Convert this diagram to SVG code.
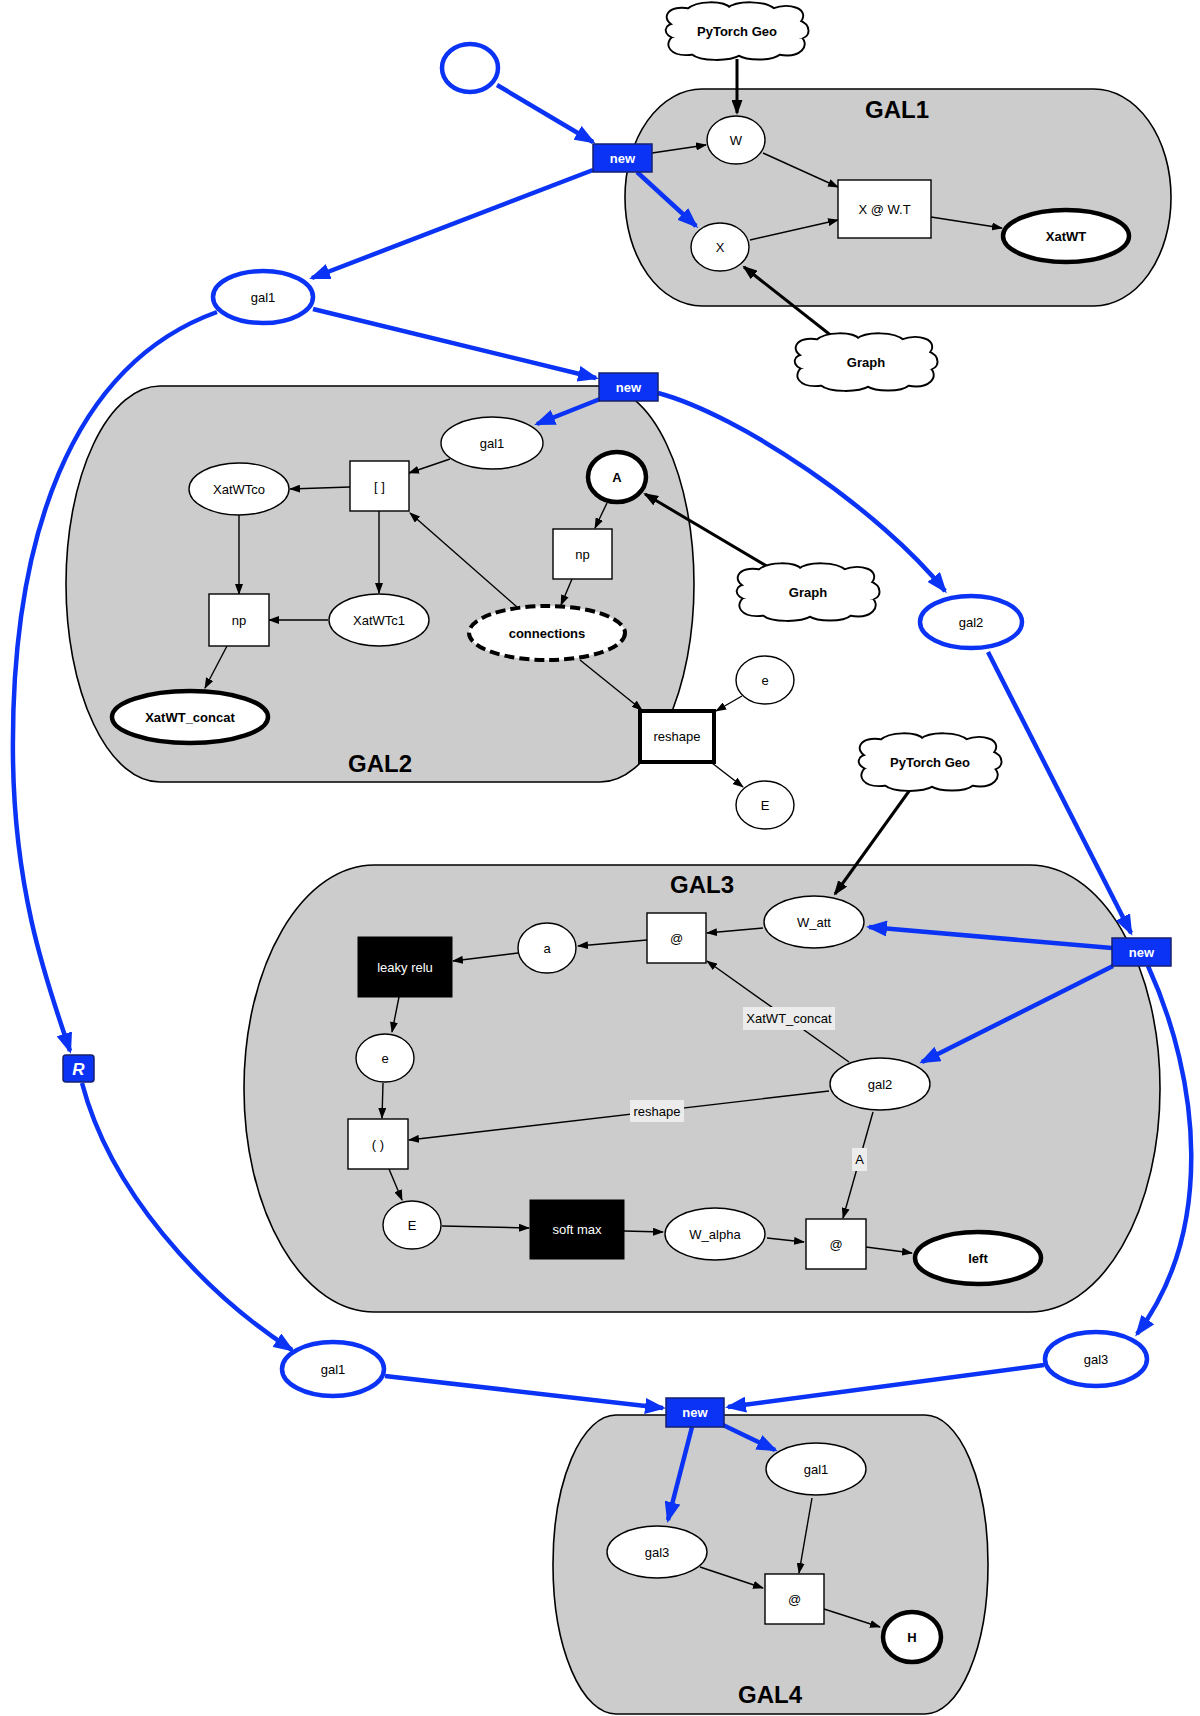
<svg xmlns="http://www.w3.org/2000/svg" xmlns:xlink="http://www.w3.org/1999/xlink" width="1200" height="1716" viewBox="0 0 1200 1716">
<style>
text{font-family:"Liberation Sans",Arial,sans-serif;font-size:13px;text-anchor:middle;fill:#000}
.b{font-weight:bold}
.w{fill:#fff}
.title{font-size:24px;font-weight:bold}
.cont{fill:#cccccc;stroke:#000;stroke-width:1.6}
.n{fill:#fff;stroke:#000;stroke-width:1.4}
.thick{fill:#fff;stroke:#000;stroke-width:4.5}
.blk{fill:#000;stroke:#000;stroke-width:1}
.bl{fill:#fff;stroke:#0a33f5;stroke-width:4.5}
.newb{fill:#0a33f5;stroke:#14206e;stroke-width:1.5}
.dash{fill:#fff;stroke:#000;stroke-width:4;stroke-dasharray:10 5}
.e{fill:none;stroke:#000;stroke-width:1.4;marker-end:url(#aS)}
.k{fill:none;stroke:#000;stroke-width:3;marker-end:url(#aK)}
.be{fill:none;stroke:#0a33f5;stroke-width:4.5;marker-end:url(#aB)}
.lbl{fill:#ececec;stroke:none}
.co{fill:#fff;stroke:#000;stroke-width:7}
.ci{fill:#fff;stroke:#fff;stroke-width:3.2}
</style>
<defs>
<marker id="aS" markerUnits="userSpaceOnUse" markerWidth="11" markerHeight="8" refX="10" refY="4" orient="auto"><path d="M0,0 L11,4 L0,8 z" fill="#000"/></marker>
<marker id="aK" markerUnits="userSpaceOnUse" markerWidth="15" markerHeight="11" refX="13" refY="5.5" orient="auto"><path d="M0,0 L15,5.5 L0,11 z" fill="#000"/></marker>
<marker id="aB" markerUnits="userSpaceOnUse" markerWidth="21" markerHeight="16" refX="18" refY="8" orient="auto"><path d="M0,0 L21,8 L0,16 z" fill="#0a33f5"/></marker>
<path id="cloud" d="M-58,-6 C-74,-10 -70,-24 -48,-20 C-40,-28 -14,-28 -8,-21 C0,-28 28,-28 36,-20 C52,-26 72,-20 60,-9 C72,-5 72,5 60,6 C72,13 62,25 42,21 C34,28 10,27 2,22 C-8,28 -36,28 -44,21 C-66,24 -72,12 -60,6 C-72,2 -72,-5 -58,-6 Z"/>
</defs>
<rect width="1200" height="1716" fill="#fff"/>

<g id="containers">
<g id="GAL1"><rect class="cont" x="625" y="89" width="546" height="217" rx="77" ry="108"/><text class="title" x="897" y="118">GAL1</text></g>
<g id="GAL2"><rect class="cont" x="66" y="386" width="628" height="396" rx="94" ry="198"/><text class="title" x="380" y="772">GAL2</text></g>
<g id="GAL3"><rect class="cont" x="244" y="865" width="916" height="447" rx="130" ry="223"/><text class="title" x="702" y="893">GAL3</text></g>
<g id="GAL4"><rect class="cont" x="553" y="1415" width="435" height="299" rx="63" ry="149"/><text class="title" x="770" y="1703">GAL4</text></g>
</g>

<g id="connectors">
<path class="be" d="M497,85 L593,142"/>
<path class="be" d="M593,170 L312,278"/>
<path class="be" d="M637,172 L696,226"/>
<path class="be" d="M313,309 L596,378"/>
<path class="be" d="M217,312 C70,365 10,540 13,760 C15,900 50,990 70,1051"/>
<path class="be" d="M82,1083 C110,1190 200,1290 292,1350"/>
<path class="be" d="M600,399 L537,424"/>
<path class="be" d="M658,393 C740,415 880,510 945,591"/>
<path class="be" d="M988,652 L1131,933"/>
<path class="be" d="M1112,948 L869,927"/>
<path class="be" d="M1113,966 L922,1062"/>
<path class="be" d="M1148,966 C1200,1080 1215,1230 1137,1334"/>
<path class="be" d="M385,1376 L663,1408"/>
<path class="be" d="M1044,1365 L728,1407"/>
<path class="be" d="M723,1425 L775,1450"/>
<path class="be" d="M692,1427 L668,1520"/>

<path class="k" d="M737,59 L737,113"/>
<path class="k" d="M833,337 L744,267"/>
<path class="k" d="M770,568 L645,494"/>
<path class="k" d="M912,787 L835,894"/>

<path class="e" d="M652,153 L706,145"/>
<path class="e" d="M763,153 L838,187"/>
<path class="e" d="M750,240 L838,220"/>
<path class="e" d="M931,217 L1002,228"/>
<path class="e" d="M450,459 L409,473"/>
<path class="e" d="M350,487 L290,489"/>
<path class="e" d="M379,511 L379,593"/>
<path class="e" d="M239,515 L239,594"/>
<path class="e" d="M328,620 L269,620"/>
<path class="e" d="M227,646 L205,688"/>
<path class="e" d="M517,607 L410,513"/>
<path class="e" d="M607,503 L595,528"/>
<path class="e" d="M572,579 L561,605"/>
<path class="e" d="M580,660 L642,710"/>
<path class="e" d="M742,696 L716,711"/>
<path class="e" d="M712,763 L743,787"/>
<path class="e" d="M763,928 L707,933"/>
<path class="e" d="M647,940 L578,946"/>
<path class="e" d="M518,953 L453,961"/>
<path class="e" d="M399,997 L392,1032"/>
<path class="e" d="M383,1083 L382,1118"/>
<path class="e" d="M389,1169 L402,1200"/>
<path class="e" d="M442,1226 L529,1228"/>
<path class="e" d="M624,1231 L663,1232"/>
<path class="e" d="M767,1238 L804,1242"/>
<path class="e" d="M866,1247 L912,1253"/>
<path class="e" d="M849,1062 L707,961"/>
<path class="e" d="M829,1091 L409,1140"/>
<path class="e" d="M873,1112 L843,1218"/>
<path class="e" d="M812,1498 L799,1573"/>
<path class="e" d="M700,1567 L763,1588"/>
<path class="e" d="M824,1609 L880,1627"/>

<rect class="lbl" x="743" y="1007" width="92" height="23"/><text x="789" y="1023">XatWT_concat</text>
<rect class="lbl" x="630" y="1100" width="54" height="22"/><text x="657" y="1116">reshape</text>
<rect class="lbl" x="852" y="1148" width="15" height="23"/><text x="859.5" y="1164">A</text>
</g>

<g id="nodes">
<g id="start"><ellipse class="bl" cx="470" cy="68" rx="28" ry="24"/></g>
<g id="pytorch_geo_1"><use xlink:href="#cloud" class="co" transform="translate(737,31)"/><use xlink:href="#cloud" class="ci" transform="translate(737,31)"/><text class="b" x="737" y="36">PyTorch Geo</text></g>
<g id="new1"><rect class="newb" x="593" y="144" width="59" height="28"/><text class="b w" x="622.5" y="163">new</text></g>
<g id="W"><ellipse class="n" cx="736" cy="140" rx="29" ry="24"/><text x="736" y="145">W</text></g>
<g id="X"><ellipse class="n" cx="720" cy="247" rx="29" ry="24"/><text x="720" y="252">X</text></g>
<g id="XWT"><rect class="n" x="838" y="180" width="93" height="58"/><text x="884.5" y="214">X @ W.T</text></g>
<g id="XatWT"><ellipse class="thick" cx="1066" cy="236" rx="63" ry="26"/><text class="b" x="1066" y="241">XatWT</text></g>
<g id="graph_1"><use xlink:href="#cloud" class="co" transform="translate(866,362)"/><use xlink:href="#cloud" class="ci" transform="translate(866,362)"/><text class="b" x="866" y="367">Graph</text></g>

<g id="gal1_a"><ellipse class="bl" cx="263" cy="297" rx="50" ry="26"/><text x="263" y="302">gal1</text></g>
<g id="new2"><rect class="newb" x="599" y="373" width="59" height="28"/><text class="b w" x="628.5" y="392">new</text></g>
<g id="gal1_b"><ellipse class="n" cx="492" cy="443" rx="51" ry="26"/><text x="492" y="448">gal1</text></g>
<g id="brackets"><rect class="n" x="350" y="461" width="59" height="50"/><text x="379.5" y="491">[ ]</text></g>
<g id="XatWTco"><ellipse class="n" cx="239" cy="489" rx="50" ry="26"/><text x="239" y="494">XatWTco</text></g>
<g id="XatWTc1"><ellipse class="n" cx="379" cy="620" rx="50" ry="26"/><text x="379" y="625">XatWTc1</text></g>
<g id="np1"><rect class="n" x="209" y="594" width="60" height="52"/><text x="239" y="625">np</text></g>
<g id="XatWT_concat"><ellipse class="thick" cx="190" cy="717" rx="78" ry="26"/><text class="b" x="190" y="722">XatWT_concat</text></g>
<g id="A"><ellipse class="thick" cx="617" cy="477" rx="29" ry="25"/><text class="b" x="617" y="482">A</text></g>
<g id="np2"><rect class="n" x="553" y="529" width="59" height="50"/><text x="582.5" y="559">np</text></g>
<g id="connections"><ellipse class="dash" cx="547" cy="633" rx="78" ry="27"/><text class="b" x="547" y="638">connections</text></g>
<g id="reshape"><rect class="thick" x="640" y="711" width="74" height="51" style="stroke-width:4"/><text x="677" y="741">reshape</text></g>
<g id="e_out"><ellipse class="n" cx="765" cy="680" rx="29" ry="24"/><text x="765" y="685">e</text></g>
<g id="E_out"><ellipse class="n" cx="765" cy="805" rx="29" ry="24"/><text x="765" y="810">E</text></g>
<g id="graph_2"><use xlink:href="#cloud" class="co" transform="translate(808,592)"/><use xlink:href="#cloud" class="ci" transform="translate(808,592)"/><text class="b" x="808" y="597">Graph</text></g>
<g id="gal2_a"><ellipse class="bl" cx="971" cy="622" rx="51" ry="26"/><text x="971" y="627">gal2</text></g>
<g id="pytorch_geo_2"><use xlink:href="#cloud" class="co" transform="translate(930,762)"/><use xlink:href="#cloud" class="ci" transform="translate(930,762)"/><text class="b" x="930" y="767">PyTorch Geo</text></g>

<g id="R"><rect class="newb" x="63" y="1055" width="31" height="27" rx="3"/><text class="b w" x="78.5" y="1075" style="font-size:17px;font-style:italic">R</text></g>

<g id="W_att"><ellipse class="n" cx="814" cy="922" rx="50" ry="26"/><text x="814" y="927">W_att</text></g>
<g id="at1"><rect class="n" x="647" y="913" width="59" height="50"/><text x="676.5" y="943">@</text></g>
<g id="a"><ellipse class="n" cx="547" cy="948" rx="29" ry="25"/><text x="547" y="953">a</text></g>
<g id="leaky_relu"><rect class="blk" x="358" y="937" width="94" height="60"/><text class="w" x="405" y="972">leaky relu</text></g>
<g id="e_in"><ellipse class="n" cx="385" cy="1058" rx="29" ry="24"/><text x="385" y="1063">e</text></g>
<g id="paren"><rect class="n" x="348" y="1119" width="60" height="50"/><text x="378" y="1149">( )</text></g>
<g id="E_in"><ellipse class="n" cx="412" cy="1225" rx="29" ry="24"/><text x="412" y="1230">E</text></g>
<g id="soft_max"><rect class="blk" x="530" y="1200" width="94" height="59"/><text class="w" x="577" y="1234">soft max</text></g>
<g id="W_alpha"><ellipse class="n" cx="715" cy="1234" rx="50" ry="26"/><text x="715" y="1239">W_alpha</text></g>
<g id="at2"><rect class="n" x="806" y="1219" width="60" height="50"/><text x="836" y="1249">@</text></g>
<g id="left"><ellipse class="thick" cx="978" cy="1258" rx="63" ry="26"/><text class="b" x="978" y="1263">left</text></g>
<g id="gal2_b"><ellipse class="n" cx="880" cy="1084" rx="50" ry="26"/><text x="880" y="1089">gal2</text></g>
<g id="new3"><rect class="newb" x="1112" y="938" width="59" height="28"/><text class="b w" x="1141.5" y="957">new</text></g>

<g id="gal1_c"><ellipse class="bl" cx="333" cy="1369" rx="51" ry="27"/><text x="333" y="1374">gal1</text></g>
<g id="gal3_a"><ellipse class="bl" cx="1096" cy="1359" rx="51" ry="27"/><text x="1096" y="1364">gal3</text></g>
<g id="new4"><rect class="newb" x="666" y="1398" width="58" height="29"/><text class="b w" x="695" y="1417">new</text></g>
<g id="gal1_d"><ellipse class="n" cx="816" cy="1469" rx="50" ry="26"/><text x="816" y="1474">gal1</text></g>
<g id="gal3_b"><ellipse class="n" cx="657" cy="1552" rx="50" ry="26"/><text x="657" y="1557">gal3</text></g>
<g id="at3"><rect class="n" x="765" y="1574" width="59" height="50"/><text x="794.5" y="1604">@</text></g>
<g id="H"><ellipse class="thick" cx="912" cy="1637" rx="29" ry="25"/><text class="b" x="912" y="1642">H</text></g>
</g>
</svg>
